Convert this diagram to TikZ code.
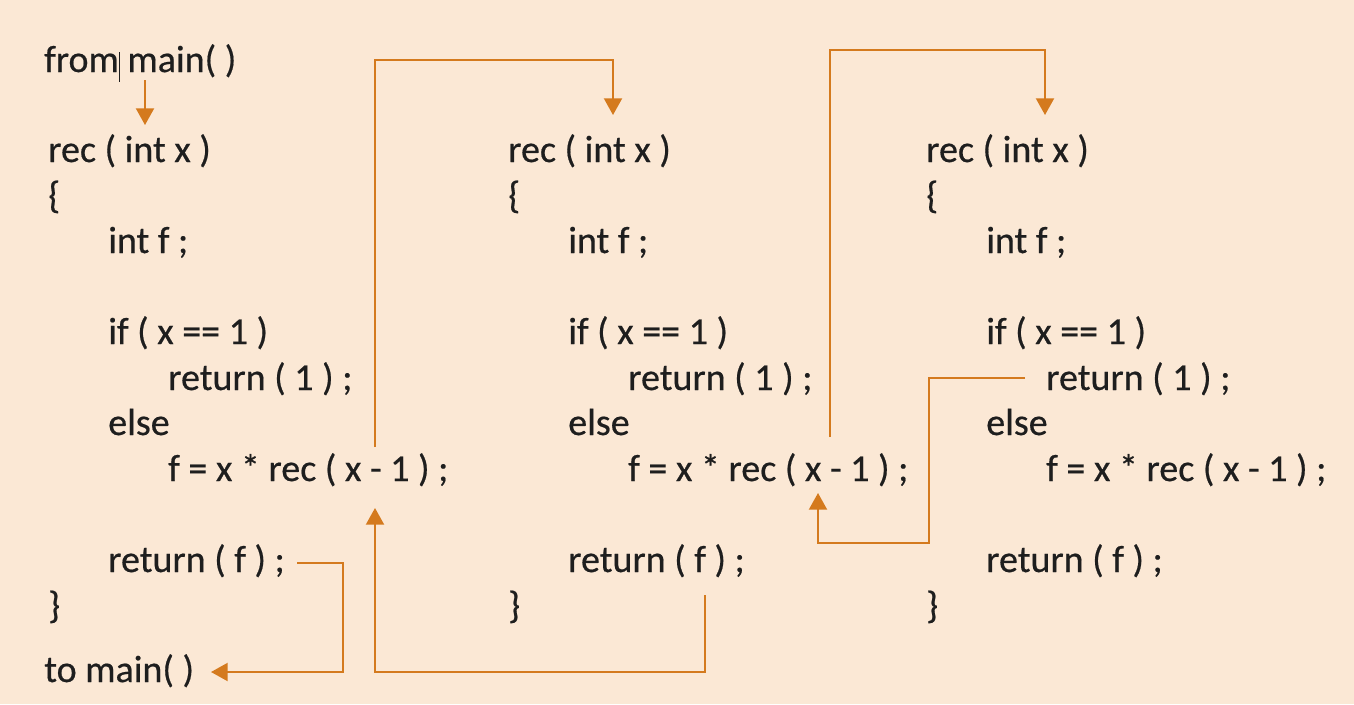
\documentclass[tikz,border=0pt]{standalone}
\usepackage{fontspec}
\setmainfont[FakeBold=0.5]{Carlito}
\usetikzlibrary{arrows.meta}
\definecolor{bgpeach}{HTML}{FBE8D5}
\definecolor{flowc}{HTML}{D47A1E}
\definecolor{codec}{HTML}{1E1E1E}
\tikzset{
  code/.style={anchor=base west, inner sep=0pt, text=codec, font=\fontsize{28.5}{34}\selectfont},
  flow/.style={draw=flowc, line width=1.5pt},
  flowarrow/.style={flow, -{Triangle[length=12.5pt,width=13.5pt]}}
}
\begin{document}
\begin{tikzpicture}[x=0.75pt,y=0.75pt,yscale=-1,xscale=1]
                  \fill[bgpeach] (0,0) rectangle (1354,704);

                  \node[code] (from) at (44,72) {from main( )};
                  \draw[codec, line width=0.7pt] (119,52) -- (119,82);
                  \node[code] (tomain) at (44,682) {to main( )};

                  \node[code] (rec1) at (48,162) {rec ( int x )};
                  \node[code] (open1) at (48,208) {\{};
                  \node[code] (intf1) at (108,253) {int f ;};
                  \node[code] (if1) at (108,344) {if ( x == 1 )};
                  \node[code] (ret11) at (168,390) {return ( 1 ) ;};
                  \node[code] (else1) at (108,435) {else};
                  \node[code] (call1) at (168,481) {f = x * rec ( x - 1 ) ;};
                  \node[code] (retf1) at (108,572) {return ( f ) ;};
                  \node[code] (close1) at (48,618) {\}};

                  \node[code] (rec2) at (508,162) {rec ( int x )};
                  \node[code] (open2) at (508,208) {\{};
                  \node[code] (intf2) at (568,253) {int f ;};
                  \node[code] (if2) at (568,344) {if ( x == 1 )};
                  \node[code] (ret12) at (628,390) {return ( 1 ) ;};
                  \node[code] (else2) at (568,435) {else};
                  \node[code] (call2) at (628,481) {f = x * rec ( x - 1 ) ;};
                  \node[code] (retf2) at (568,572) {return ( f ) ;};
                  \node[code] (close2) at (508,618) {\}};

                  \node[code] (rec3) at (926,162) {rec ( int x )};
                  \node[code] (open3) at (926,208) {\{};
                  \node[code] (intf3) at (986,253) {int f ;};
                  \node[code] (if3) at (986,344) {if ( x == 1 )};
                  \node[code] (ret13) at (1046,390) {return ( 1 ) ;};
                  \node[code] (else3) at (986,435) {else};
                  \node[code] (call3) at (1046,481) {f = x * rec ( x - 1 ) ;};
                  \node[code] (retf3) at (986,572) {return ( f ) ;};
                  \node[code] (close3) at (926,618) {\}};

                  % calls going down
                  \coordinate (mainout) at (145,80);
                  \coordinate (in1) at (145,125);
                  \coordinate (out1) at (375,447);
                  \coordinate (top1) at (500,60);
                  \coordinate (in2) at (613,115);
                  \coordinate (out2) at (830,437);
                  \coordinate (top2) at (950,50);
                  \coordinate (in3) at (1045,115);
                  \draw[flowarrow] (mainout) -- (in1);
                  \draw[flowarrow] (out1) |- (top1) -| (in2);
                  \draw[flowarrow] (out2) |- (top2) -| (in3);

                  % returns going back
                  \coordinate (back3) at (1025,378);
                  \coordinate (bend3) at (929,543);
                  \coordinate (hit2) at (818,493);
                  \coordinate (back2) at (705,595);
                  \coordinate (bend2) at (500,672);
                  \coordinate (hit1) at (375,508);
                  \coordinate (back1) at (297,563);
                  \coordinate (bend1) at (343,672);
                  \coordinate (hit0) at (211,672);
                  \draw[flowarrow] (back3) -| (bend3) -| (hit2);
                  \draw[flowarrow] (back2) |- (bend2) -| (hit1);
                  \draw[flowarrow] (back1) -| (bend1) -- (hit0);
              \end{tikzpicture}
\end{document}
